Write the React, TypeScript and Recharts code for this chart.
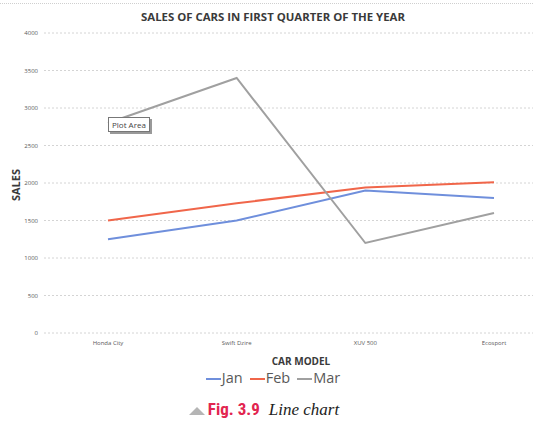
import React from 'react';
import { LineChart, Line, XAxis, YAxis, CartesianGrid } from 'recharts';

const categories = ['Honda City', 'Swift Dzire', 'XUV 500', 'Ecosport'];
const janSales = [1250, 1500, 1900, 1800];
const febSales = [1500, 1730, 1940, 2010];
const marSales = [2800, 3400, 1200, 1600];
const yTicks = [0, 500, 1000, 1500, 2000, 2500, 3000, 3500, 4000];

const seriesNames = ['Jan', 'Feb', 'Mar'];
const seriesColors = ['#6f8fdc', '#f0664a', '#a0a0a0'];

const data = categories.map((model, i) => ({
  model,
  Jan: janSales[i],
  Feb: febSales[i],
  Mar: marSales[i],
}));

const SANS = '"Open Sans", "Liberation Sans", sans-serif';

export default function App() {
  return (
    <div
      style={{
        position: 'absolute',
        left: 0,
        top: 0,
        width: 533,
        height: 423,
        overflow: 'hidden',
        background: '#fff',
        fontFamily: SANS,
      }}
    >
      {/* chart area border at the top */}
      <div style={{ position: 'absolute', left: 0, top: 3, width: 533, borderTop: '1px dotted #cfcfcf' }} />

      <div
        style={{
          position: 'absolute',
          top: 9,
          left: 0,
          width: 546,
          textAlign: 'center',
          fontSize: 11.4,
          fontWeight: 700,
          color: '#3a3a3a',
        }}
      >
        SALES OF CARS IN FIRST QUARTER OF THE YEAR
      </div>

      <LineChart
        width={580}
        height={423}
        data={data}
        margin={{ top: 33, right: 22, left: 14, bottom: 70 }}
      >
        <CartesianGrid vertical={false} stroke="#d4d4d4" strokeDasharray="2 2" />
        <XAxis
          dataKey="model"
          padding={{ left: 64, right: 64 }}
          axisLine={false}
          tickLine={false}
          tickSize={0}
          tickMargin={8}
          height={20}
          tick={{ fontSize: 6, fill: '#595959', fontFamily: SANS }}
        />
        <YAxis
          domain={[0, 4000]}
          ticks={yTicks}
          width={30}
          axisLine={false}
          tickLine={false}
          tickSize={0}
          tickMargin={6}
          tick={{ fontSize: 6, fill: '#595959', fontFamily: SANS }}
        />
        <Line dataKey="Jan" stroke={seriesColors[0]} strokeWidth={2} dot={false} isAnimationActive={false} />
        <Line dataKey="Feb" stroke={seriesColors[1]} strokeWidth={2} dot={false} isAnimationActive={false} />
        <Line dataKey="Mar" stroke={seriesColors[2]} strokeWidth={2} dot={false} isAnimationActive={false} />
      </LineChart>

      <div
        style={{
          position: 'absolute',
          left: 15,
          top: 185,
          transform: 'translate(-50%, -50%) rotate(-90deg)',
          fontSize: 11,
          fontWeight: 700,
          color: '#3a3a3a',
        }}
      >
        SALES
      </div>

      <div
        style={{
          position: 'absolute',
          top: 354,
          left: 44,
          width: 514,
          textAlign: 'center',
          fontSize: 10,
          fontWeight: 700,
          color: '#3a3a3a',
        }}
      >
        CAR MODEL
      </div>

      {/* legend */}
      <div
        style={{
          position: 'absolute',
          top: 368,
          left: 0,
          width: 546,
          textAlign: 'center',
          fontSize: 14.5,
          color: '#595959',
          whiteSpace: 'nowrap',
        }}
      >
        {seriesNames.map((name, i) => (
          <span key={name} style={{ marginRight: i < seriesNames.length - 1 ? 7 : 0 }}>
            <span
              style={{
                display: 'inline-block',
                width: 15,
                height: 0,
                borderTop: `2px solid ${seriesColors[i]}`,
                verticalAlign: 'middle',
                marginRight: 1,
              }}
            />
            {name}
          </span>
        ))}
      </div>

      <div
        style={{
          position: 'absolute',
          left: 108,
          top: 117,
          height: 13,
          padding: '0 3px',
          border: '1px solid #777',
          boxShadow: '2px 2px 0 #999',
          background: '#fff',
          fontSize: 8,
          lineHeight: '13px',
          color: '#444',
        }}
      >
        Plot Area
      </div>

      <div
        style={{
          position: 'absolute',
          top: 398,
          left: 0,
          width: 528,
          textAlign: 'center',
          whiteSpace: 'nowrap',
        }}
      >
        <span
          style={{
            display: 'inline-block',
            width: 0,
            height: 0,
            borderLeft: '8px solid transparent',
            borderRight: '8px solid transparent',
            borderBottom: '8px solid #b5b5b5',
            marginRight: 3,
          }}
        />
        <span
          style={{
            fontFamily: '"Liberation Sans Narrow", "Roboto Condensed", "Liberation Sans", sans-serif',
            fontWeight: 700,
            fontSize: 17,
            color: '#e2244f',
          }}
        >
          Fig. 3.9
        </span>
        <span
          style={{
            fontFamily: '"Liberation Serif", serif',
            fontStyle: 'italic',
            fontSize: 17,
            color: '#222',
            marginLeft: 9,
          }}
        >
          Line chart
        </span>
      </div>
    </div>
  );
}
